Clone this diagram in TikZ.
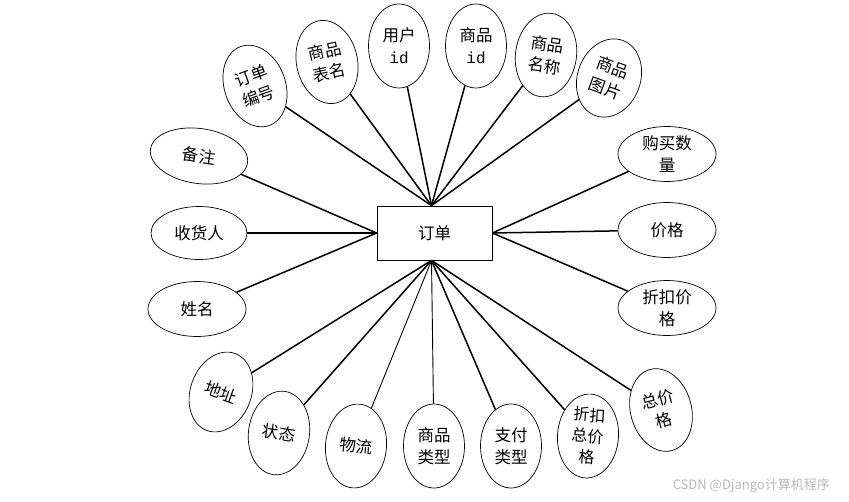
\documentclass[tikz,border=0pt]{standalone}
\usepackage{fontspec}
\setmainfont{Noto Sans CJK SC}
\newfontfamily\idfont{Liberation Mono}
\usetikzlibrary{shapes.geometric}
\tikzset{
  attr/.style={ellipse, draw, line width=0.7pt, inner sep=0pt, align=center,
    font=\fontsize{16.5}{22}\selectfont, minimum width=61pt, minimum height=84pt},
  hattr/.style={attr, minimum width=98pt, minimum height=55pt},
  entity/.style={rectangle, draw, line width=0.8pt, minimum width=115pt, minimum height=54pt,
    font=\fontsize{16.5}{22}\selectfont},
  link/.style={line width=1.5pt},
  thinlink/.style={line width=0.9pt}
}
\begin{document}
\begin{tikzpicture}[x=1pt,y=-1pt]
\useasboundingbox (0,0) rectangle (849,501);
\node[entity] (box) at (434.5,233) {订单};
\coordinate (tn) at ([xshift=-3pt]box.north);
\coordinate (ts) at ([xshift=-3pt]box.south);
\coordinate (tw) at (box.west);
\coordinate (te) at (box.east);

\node[attr, rotate=20] (e1) at (255,86) {订单\\编号};
\node[attr, rotate=12] (e2) at (327,62) {商品\\表名};
\node[attr] (e3) at (399,46) {用户\\{\idfont\fontsize{16}{22}\selectfont id}};
\node[attr] (e4) at (476,46) {商品\\{\idfont\fontsize{16}{22}\selectfont id}};
\node[attr, rotate=-8] (e5) at (546,55) {商品\\名称};
\node[attr, rotate=-20, minimum height=80pt, minimum width=63pt] (e6) at (609,78) {商品\\图片};
\node[hattr] (e7) at (667,154) {购买数\\量};
\node[hattr, rotate=-8] (e8) at (199,156) {备注};
\node[hattr, minimum width=96pt, minimum height=53pt] (e9) at (199,233) {收货人};
\node[hattr] (e10) at (197,309) {姓名};
\node[hattr] (e11) at (667,230) {价格};
\node[hattr] (e12) at (667,308) {折扣价\\格};
\node[attr, rotate=-20, minimum height=82pt] (e13) at (221,392) {地址};
\node[attr, rotate=-8] (e14) at (279,433) {状态};
\node[attr, rotate=-5] (e15) at (356,446) {物流};
\node[attr] (e16) at (434,446) {商品\\类型};
\node[attr] (e17) at (511,446) {支付\\类型};
\node[attr, rotate=-4, font=\fontsize{16}{21}\selectfont] (e18) at (588,436) {折扣\\总价\\格};
\node[attr, rotate=15] (e19) at (661,410) {总价\\格};

\foreach \e in {e1,e2,e3,e4,e5,e6} \draw[link] (tn) -- (\e);
\foreach \e in {e8,e9,e10} \draw[link] (tw) -- (\e);
\foreach \e in {e7,e11,e12} \draw[link] (te) -- (\e);
\foreach \e in {e13,e14,e17,e18,e19} \draw[link] (ts) -- (\e);
\foreach \e in {e15,e16} \draw[thinlink] (ts) -- (\e);

\node[text=gray!55, font=\fontsize{13}{15}\selectfont, anchor=east, inner sep=0pt] (wm) at (830,486) {CSDN @Django计算机程序};
\end{tikzpicture}
\end{document}
